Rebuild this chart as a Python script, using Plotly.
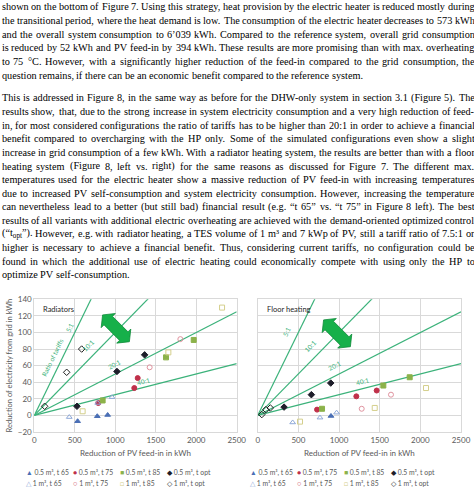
import math
import plotly.graph_objects as go

# ---------------- page text ----------------
para1 = [
    "shown on the bottom of Figure 7. Using this strategy, heat provision by the electric heater is reduced mostly during",
    "the transitional period, where the heat demand is low. The consumption of the electric heater decreases to 573 kWh",
    "and the overall system consumption to 6’039 kWh. Compared to the reference system, overall grid consumption",
    "is reduced by 52 kWh and PV feed-in by 394 kWh. These results are more promising than with max. overheating",
    "to 75 °C. However, with a significantly higher reduction of the feed-in compared to the grid consumption, the",
    "question remains, if there can be an economic benefit compared to the reference system.",
]
para2 = [
    "This is addressed in Figure 8, in the same way as before for the DHW-only system in section 3.1 (Figure 5). The",
    "results show, that, due to the strong increase in system electricity consumption and a very high reduction of feed-",
    "in, for most considered configurations the ratio of tariffs has to be higher than 20:1 in order to achieve a financial",
    "benefit compared to overcharging with the HP only. Some of the simulated configurations even show a slight",
    "increase in grid consumption of a few kWh. With a radiator heating system, the results are better than with a floor",
    "heating system (Figure 8, left vs. right) for the same reasons as discussed for Figure 7. The different max.",
    "temperatures used for the electric heater show a massive reduction of PV feed-in with increasing temperatures",
    "due to increased PV self-consumption and system electricity consumption. However, increasing the temperature",
    "can nevertheless lead to a better (but still bad) financial result (e.g. “t 65” vs. “t 75” in Figure 8 left). The best",
    "results of all variants with additional electric overheating are achieved with the demand-oriented optimized control",
    "(“t<sub>opt</sub>”). However, e.g. with radiator heating, a TES volume of 1 m³ and 7 kWp of PV, still a tariff ratio of 7.5:1 or",
    "higher is necessary to achieve a financial benefit. Thus, considering current tariffs, no configuration could be",
    "found in which the additional use of electric heating could economically compete with using only the HP to",
    "optimize PV self-consumption.",
]

# ---------------- chart data ----------------
series_names = ["0.5 m³, t 65", "0.5 m³, t 75", "0.5 m³, t 85", "0.5 m³, t opt",
                "1 m³, t 65", "1 m³, t 75", "1 m³, t 85", "1 m³, t opt"]

# Radiators (left)
rad_x = [
    [535, 778, 906],
    [790, 1235, 1277],
    [844, 1627, 1969],
    [527, 1021, 1363],
    [432, 783, 960],
    [1425, 1804],
    [597, 1656, 2319],
    [128, 400, 585],
]
rad_y = [
    [-7, -1, 0.5],
    [15, 33, 45],
    [18, 70, 91],
    [11, 53, 73],
    [-2, 15, 22],
    [58, 92],
    [5, 76, 130],
    [11, 52, 80],
]

# Floor heating (right)
floor_x = [
    [901],
    [730, 1213, 1463],
    [791, 1545, 1869],
    [324, 660, 898],
    [430, 766, 970],
    [1279, 1639],
    [520, 1439, 2070],
    [50, 100, 155],
]
floor_y = [
    [-0.7],
    [7, 23, 30],
    [8, 36, 46],
    [10, 25, 39],
    [-8.5, -2.7, 3.3],
    [8, 25],
    [-7.5, 9, 33],
    [1, 7, 9],
]

tariff_ratios = [5, 10, 20, 40]
ratio_labels = ["5:1", "10:1", "20:1", "40:1"]
rad_label_x = [440, 670, 990, 1345]
rad_label_y = [106, 84, 61, 41]
floor_label_x = [360, 645, 950, 1290]
floor_label_y = [101, 83, 60, 41]

x_ticks = [0, 500, 1000, 1500, 2000, 2500]
y_ticks = [-20, 0, 20, 40, 60, 80, 100, 120, 140]

# ---------------- styles ----------------
symbols = ["triangle-up", "circle", "square", "diamond",
           "triangle-up-open", "circle-open", "square-open", "diamond-open"]
glyphs = ["▲", "●", "■", "◆", "△", "○", "□", "◇"]
colors = ["#4a6fb5", "#c0304a", "#8cb24a", "#1e1e2a",
          "#8fa9d8", "#e0939f", "#d4cf8c", "#1e1e1e"]
line_green = "#3bb27a"
grid = "#d9d9d9"
tick_grey = "#595959"
chart_font = "Lato"
serif = "Liberation Serif"

# Times / Liberation Serif advance widths (1/1000 em), used to justify the body text
TIMES = {" ": 250, ",": 250, ".": 250, ":": 278, "-": 333, "(": 333, ")": 333, "’": 333,
         "“": 444, "”": 444, "°": 400, "³": 300, "'": 180}
TIMES.update({d: 500 for d in "0123456789"})
TIMES.update(dict(zip("abcdefghijklmnopqrstuvwxyz",
                      [444, 500, 444, 500, 444, 333, 500, 500, 278, 278, 500, 278, 778,
                       500, 500, 500, 500, 333, 389, 278, 500, 500, 722, 500, 500, 444])))
TIMES.update(dict(zip("ABCDEFGHIJKLMNOPQRSTUVWXYZ",
                      [722, 667, 667, 722, 611, 556, 722, 722, 333, 389, 722, 611, 889,
                       722, 722, 556, 722, 667, 556, 611, 722, 722, 944, 722, 722, 611])))


def word_units(w):
    if "<sub>" in w:
        head, rest = w.split("<sub>")
        sub, tail = rest.split("</sub>")
        return word_units(head) + 0.7 * word_units(sub) + word_units(tail)
    return sum(TIMES.get(c, 500) for c in w) / 1000.0


page_w = 474
left_px, right_px = 0.5, 473.5
line_h = 13.6

# font size so the widest justified line has normal word spacing
all_full = para1[:-1] + para2[:-1]
body_size = min((right_px - left_px) / (sum(word_units(w) for w in ln.split(" "))
                                        + 0.25 * (len(ln.split(" ")) - 1)) for ln in all_full)

fig = go.Figure()

panels = [
    ("x", "y", rad_x, rad_y, rad_label_x, rad_label_y),
    ("x2", "y2", floor_x, floor_y, floor_label_x, floor_label_y),
]

for xa, ya, px_, py_, lx, ly in panels:
    for r in tariff_ratios:
        fig.add_trace(go.Scatter(x=[0, 2500], y=[0, 2500 / r], mode="lines",
                                 line=dict(color=line_green, width=1.2),
                                 xaxis=xa, yaxis=ya, showlegend=False, hoverinfo="skip"))
    for i in range(len(series_names)):
        fig.add_trace(go.Scatter(x=px_[i], y=py_[i], mode="markers", name=series_names[i],
                                 marker=dict(symbol=symbols[i], color=colors[i], size=5,
                                             line=dict(width=1, color=colors[i])),
                                 xaxis=xa, yaxis=ya, showlegend=False))

axis_common = dict(showgrid=True, gridcolor=grid, gridwidth=1, zeroline=False,
                   showline=True, linecolor=grid, mirror=True, ticks="",
                   tickfont=dict(family=chart_font, size=8, color=tick_grey))

y_top = 1 - 299.3 / 490
y_bot = 1 - 432 / 490
xtitle = dict(text="Reduction of PV feed-in in kWh", standoff=6,
              font=dict(family=chart_font, size=8, color=tick_grey))

fig.update_layout(
    width=474, height=490,
    margin=dict(l=0, r=0, t=0, b=0, autoexpand=False),
    paper_bgcolor="white", plot_bgcolor="white",
    showlegend=False,
    xaxis=dict(domain=[34.3 / 474, 236.7 / 474], range=[0, 2500], tickvals=x_ticks,
               title=xtitle, anchor="y", **axis_common),
    yaxis=dict(domain=[y_bot, y_top], range=[-20, 140], tickvals=y_ticks,
               title=dict(text="Reduction of electricity from grid in kWh", standoff=4,
                          font=dict(family=chart_font, size=7.5, color=tick_grey)),
               anchor="x", **axis_common),
    xaxis2=dict(domain=[257.7 / 474, 461 / 474], range=[0, 2500], tickvals=x_ticks,
                title=xtitle, anchor="y2", **axis_common),
    yaxis2=dict(domain=[y_bot, y_top], range=[-20, 140], tickvals=y_ticks,
                showticklabels=False, anchor="x2", **axis_common),
)

annotations = []


def add_paragraph(lines, top):
    for k, line in enumerate(lines):
        words = line.split(" ")
        widths = [word_units(w) * body_size for w in words]
        if k == len(lines) - 1:
            gap = 0.25 * body_size
        else:
            gap = (right_px - left_px - sum(widths)) / (len(words) - 1)
        xpos = left_px
        for w, wd in zip(words, widths):
            annotations.append(dict(x=xpos / page_w, y=1 - (top + k * line_h) / 490,
                                    xref="paper", yref="paper", xanchor="left", yanchor="middle",
                                    showarrow=False, text=w, borderpad=0,
                                    font=dict(family=serif, size=body_size, color="black")))
            xpos += wd + gap


add_paragraph(para1, 7)
add_paragraph(para2, 98)

# panel titles and ratio labels
px_per_x = 202.4 / 2500
px_per_y = 132.7 / 160
for (xa, ya, _, _, lx, ly), title in zip(panels, ["Radiators", "Floor heating"]):
    annotations.append(dict(x=0.035, y=0.975, xref=xa + " domain", yref=ya + " domain",
                            xanchor="left", yanchor="top", showarrow=False, text=title,
                            font=dict(family=chart_font, size=7.5, color="#262626")))
    for r, lab, x, y in zip(tariff_ratios, ratio_labels, lx, ly):
        ang = math.degrees(math.atan((1 / r) * px_per_y / px_per_x))
        annotations.append(dict(x=x, y=y, xref=xa, yref=ya, showarrow=False, text=lab,
                                textangle=-ang, font=dict(family=chart_font, size=6.5, color=line_green)))

annotations.append(dict(x=225, y=70, xref="x", yref="y", showarrow=False, text="Ratio of tariffs",
                        textangle=-math.degrees(math.atan(0.2 * px_per_y / px_per_x)),
                        font=dict(family=chart_font, size=6.5, color=line_green)))

# legends under each chart
legend_cols = [0, 47, 94, 141]
for x0 in [24, 248]:
    for i, name in enumerate(series_names):
        row = i // 4
        col = i % 4
        annotations.append(dict(x=(x0 + legend_cols[col]) / 474, y=1 - (472.5 + row * 10.5) / 490,
                                xref="paper", yref="paper", xanchor="left", yanchor="middle",
                                showarrow=False,
                                text=f"<span style='color:{colors[i]}'>{glyphs[i]}</span> {name}",
                                font=dict(family=chart_font, size=6.8, color=tick_grey)))

fig.update_layout(annotations=annotations)


# green double-headed arrow
def arrow_path(angle):
    pts = [(-19, 0), (-11, 10), (-11, 6), (11, 6), (11, 10), (19, 0),
           (11, -10), (11, -6), (-11, -6), (-11, -10)]
    a = math.radians(angle)
    out = []
    for u, v in pts:
        out.append((u * math.cos(a) - v * math.sin(a), u * math.sin(a) + v * math.cos(a)))
    return "M " + " L ".join(f"{p[0]:.1f},{p[1]:.1f}" for p in out) + " Z"


for xa, ya, cx, cy in [("x", "y", 1009, 105), ("x2", "y2", 975, 99)]:
    fig.add_shape(type="path", xref=xa, yref=ya, xsizemode="pixel", ysizemode="pixel",
                  xanchor=cx, yanchor=cy, path=arrow_path(-45),
                  fillcolor="#16b04a", line=dict(color="#0e8a38", width=0.8))

# the page is photographed at exactly the figure size, so drop the default body margin
fig.write_html("out.html", config={"displayModeBar": False},
               post_script="document.body.style.margin='0px';")
